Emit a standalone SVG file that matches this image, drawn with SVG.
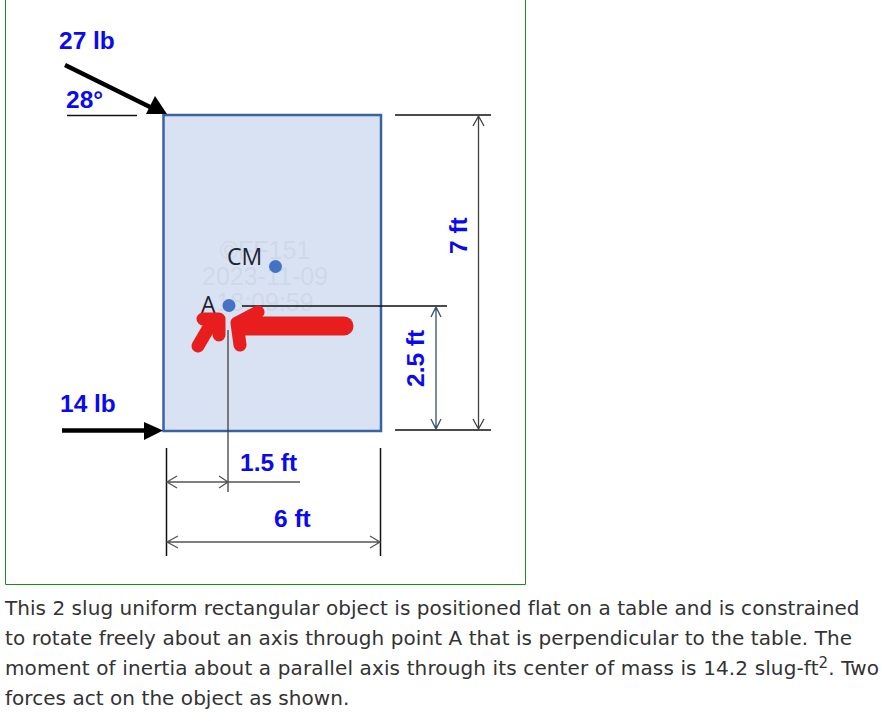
<svg xmlns="http://www.w3.org/2000/svg" width="882" height="721" viewBox="0 0 882 721">
<style>
.b{font-family:"Liberation Sans",Arial,sans-serif;font-size:24.500px;font-weight:700;fill:#0a0af0;stroke:none}
.k{font-family:"Open Sans","Noto Sans",sans-serif;font-size:23px;fill:#1c2230;stroke:none}
.w{font-family:"Liberation Sans",Arial,sans-serif;font-size:25px;fill:#8a93a8;fill-opacity:.14;stroke:none;text-anchor:middle}
.p{font-family:"DejaVu Sans",Verdana,sans-serif;font-size:20px;fill:#333;letter-spacing:.045px}
.d{fill:none;stroke:#404040;stroke-width:1.3}
.t{fill:none;stroke:#111;stroke-width:1.5}
.h{fill:none;stroke:#555;stroke-width:1.3}
.f{stroke:#000;stroke-width:4.5;fill:none}
.r{fill:none;stroke:#e81e1e;stroke-linecap:round;stroke-linejoin:round}
</style>
<rect width="882" height="721" fill="#fff"/>
<path d="M5.500 0V584.500H525.500V0" fill="none" stroke="#1d8a1d" stroke-width="1"/>
<g id="body"><rect x="163.500" y="115" width="217.500" height="316" fill="#d9e2f2" stroke="#3b62a3" stroke-width="2.500"/></g>
<g id="watermark">
<text class="w" x="265" y="259">©FF151</text>
<text class="w" x="265" y="285">2023-11-09</text>
<text class="w" x="265" y="311">18:09:59</text>
</g>
<g id="connectors">
<path class="f" d="M65 65L150 107"/>
<path d="M167 114H146L155 96Z" fill="#000"/>
<path class="f" d="M62 430.500H146"/>
<path d="M163 430.500L144 422V440Z" fill="#000"/>
<path class="t" d="M67 115.500H137"/>
<path class="t" d="M395 115H491M395 430H491M242 306H447"/>
<path class="d" d="M478.500 116V429M473 126L478.500 116L484 126M473 419L478.500 429L484 419" stroke-width="1.500"/>
<path d="M436 307V429M431 317L436 307L441 317M431 419L436 429L441 419" fill="none" stroke="#33506e" stroke-width="1.300"/>
<path class="d" d="M228 330V492" stroke-width="1.500"/>
<path class="t" d="M166.500 448V556M380.500 448V556" stroke-width="1.300"/>
<path class="h" d="M167 482H300M177 476L167 482L177 488M219 476L228 482L219 488"/>
<path class="h" d="M167 542H380M178 536L167 542L178 548M370 536L380 542L370 548"/>
</g>
<g id="dots">
<circle cx="275.500" cy="266.500" r="6.500" fill="#4472c4"/>
<circle cx="229" cy="305.500" r="6.500" fill="#4472c4"/>
</g>
<text class="k" x="227" y="265">CM</text>
<text class="k" x="201" y="313">A</text>
<g id="scribble">
<path class="r" stroke-width="13" d="M198 346L212 322"/>
<path class="r" stroke-width="13" d="M203 319H219L219 335"/>
<path class="r" stroke-width="13" d="M240 345L237 323L258 312"/>
<path class="r" stroke-width="19" d="M241 326L344 326"/>
</g>
<text class="b" x="59" y="49">27 lb</text>
<text class="b" x="66" y="108">28°</text>
<text class="b" x="60" y="412">14 lb</text>
<text class="b" x="240" y="471">1.5 ft</text>
<text class="b" x="274" y="527">6 ft</text>
<text class="b" transform="translate(467 254) rotate(-90)">7 ft</text>
<text class="b" transform="translate(424 387) rotate(-90)">2.5 ft</text>
<text class="p" x="5" y="615">This 2 slug uniform rectangular object is positioned flat on a table and is constrained</text>
<text class="p" x="5" y="645" style="letter-spacing:.07px">to rotate freely about an axis through point A that is perpendicular to the table. The</text>
<text class="p" x="5" y="675" style="letter-spacing:.125px">moment of inertia about a parallel axis through its center of mass is 14.2 slug-ft<tspan font-size="15" dy="-7">2</tspan><tspan dy="7">. Two</tspan></text>
<text class="p" x="5" y="705">forces act on the object as shown.</text>
</svg>
